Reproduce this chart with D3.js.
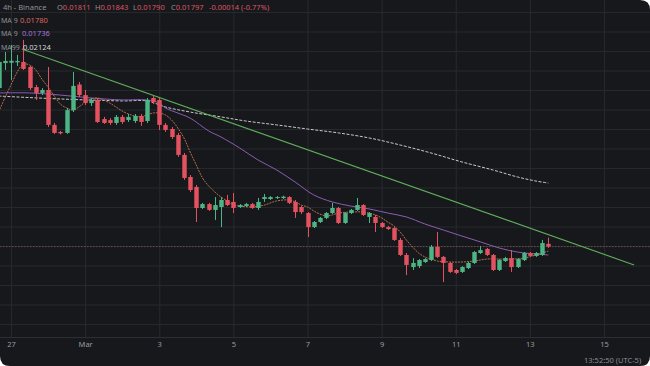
<!DOCTYPE html>
<html><head><meta charset="utf-8">
<script src="https://cdn.jsdelivr.net/npm/d3@7"></script>
<style>html,body{margin:0;padding:0;background:#fff;overflow:hidden}svg{display:block}</style>
</head><body><svg id="c" width="650" height="366"></svg>
<script>
// ---- data (4h candles, first candle opens 2025-02-26 16:00 UTC) ----
const firstCandle = Date.UTC(2025, 1, 26, 16);
const opens = [0.02610,0.02738,0.02740,0.02742,0.02744,0.02718,0.02615,0.02585,0.02600,0.02421,0.02385,0.02380,0.02497,0.02628,0.02574,0.02533,0.02549,0.02451,0.02446,0.02431,0.02462,0.02446,0.02441,0.02467,0.02441,0.02559,0.02549,0.02421,0.02400,0.02369,0.02267,0.02154,0.02103,0.01995,0.02015,0.01985,0.02000,0.02036,0.02026,0.02000,0.02005,0.02015,0.01995,0.02041,0.02041,0.02046,0.02046,0.02051,0.02026,0.02000,0.01969,0.01897,0.01923,0.01944,0.01969,0.01995,0.01918,0.01969,0.01985,0.02010,0.01949,0.01949,0.01918,0.01897,0.01892,0.01831,0.01754,0.01692,0.01697,0.01718,0.01728,0.01795,0.01744,0.01713,0.01677,0.01667,0.01687,0.01713,0.01764,0.01785,0.01754,0.01677,0.01723,0.01738,0.01692,0.01728,0.01764,0.01749,0.01754,0.01811];
const highs = [0.02795,0.02795,0.02831,0.02780,0.02857,0.02723,0.02626,0.02610,0.02718,0.02431,0.02390,0.02508,0.02692,0.02641,0.02600,0.02559,0.02559,0.02462,0.02456,0.02472,0.02472,0.02477,0.02477,0.02477,0.02559,0.02569,0.02559,0.02431,0.02410,0.02380,0.02277,0.02164,0.02113,0.02021,0.02021,0.02051,0.02051,0.02062,0.02072,0.02015,0.02021,0.02021,0.02046,0.02067,0.02056,0.02056,0.02058,0.02056,0.02036,0.02005,0.01974,0.01928,0.01949,0.01974,0.02021,0.02000,0.01974,0.01990,0.02046,0.02015,0.01974,0.01959,0.01923,0.01903,0.01897,0.01841,0.01764,0.01738,0.01733,0.01738,0.01805,0.01872,0.01749,0.01718,0.01682,0.01697,0.01718,0.01774,0.01800,0.01790,0.01759,0.01733,0.01744,0.01779,0.01738,0.01769,0.01769,0.01769,0.01831,0.01843];
const lows = [0.02590,0.02703,0.02651,0.02723,0.02703,0.02600,0.02549,0.02574,0.02410,0.02375,0.02372,0.02375,0.02487,0.02564,0.02523,0.02518,0.02431,0.02426,0.02421,0.02421,0.02426,0.02436,0.02431,0.02416,0.02431,0.02528,0.02395,0.02385,0.02349,0.02257,0.02139,0.02077,0.01923,0.01990,0.01980,0.01933,0.01897,0.02005,0.01969,0.01995,0.02000,0.01990,0.01985,0.02026,0.02036,0.02041,0.02041,0.02015,0.01944,0.01964,0.01846,0.01892,0.01918,0.01938,0.01964,0.01913,0.01913,0.01964,0.01980,0.01954,0.01918,0.01872,0.01892,0.01882,0.01826,0.01749,0.01651,0.01677,0.01687,0.01713,0.01723,0.01738,0.01615,0.01662,0.01656,0.01662,0.01682,0.01708,0.01759,0.01749,0.01672,0.01672,0.01718,0.01667,0.01687,0.01723,0.01744,0.01744,0.01749,0.01790];
const closes = [0.02744,0.02749,0.02750,0.02749,0.02708,0.02610,0.02585,0.02600,0.02421,0.02380,0.02378,0.02497,0.02621,0.02574,0.02533,0.02549,0.02436,0.02431,0.02431,0.02462,0.02436,0.02462,0.02467,0.02436,0.02549,0.02538,0.02421,0.02395,0.02359,0.02267,0.02149,0.02087,0.01995,0.02015,0.01985,0.02010,0.02036,0.02010,0.01995,0.02010,0.02015,0.01995,0.02026,0.02051,0.02051,0.02051,0.02053,0.02021,0.01974,0.01974,0.01897,0.01923,0.01944,0.01969,0.01995,0.01918,0.01969,0.01985,0.02010,0.01959,0.01969,0.01918,0.01897,0.01887,0.01831,0.01754,0.01703,0.01713,0.01728,0.01733,0.01795,0.01744,0.01713,0.01667,0.01662,0.01692,0.01713,0.01769,0.01779,0.01754,0.01677,0.01728,0.01738,0.01692,0.01733,0.01764,0.01749,0.01764,0.01815,0.01797];

// moving averages, sampled at candle numbers (0 = first candle)
const ma7Idx = [0,1,2,3,4,5,6,7,8,10,11,12,13,14,15,16,17,18,19,20,21,22,23,24,25,26,27,28,29,30,31,32,33,34,35,36,37,38,39,41,43,45,47,48,49,50,51,52,53,54,55,57,59,61,62,63,64,65,66,67,68,69,70,71,73,75,77,79,81,83,85,87,89];
const ma7Val = [0.02487,0.02559,0.02626,0.02692,0.02733,0.02728,0.02703,0.02656,0.02615,0.02528,0.02508,0.02497,0.02513,0.02538,0.02554,0.02559,0.02549,0.02533,0.02513,0.02492,0.02477,0.02467,0.02462,0.02472,0.02482,0.02482,0.02472,0.02446,0.02405,0.02354,0.02282,0.02215,0.02149,0.02108,0.02077,0.02051,0.02031,0.02010,0.02005,0.02000,0.02010,0.02031,0.02036,0.02026,0.02010,0.02000,0.01980,0.01964,0.01954,0.01959,0.01969,0.01974,0.01974,0.01959,0.01944,0.01923,0.01903,0.01872,0.01831,0.01795,0.01764,0.01744,0.01733,0.01723,0.01718,0.01718,0.01723,0.01733,0.01733,0.01733,0.01738,0.01754,0.01774];
const ma25Idx = [0,5,10,15,20,24,26,27,29,31,34,36,39,42,45,48,51,54,57,60,63,66,69,72,75,78,81,84,87,89];
const ma25Val = [0.02585,0.02585,0.02574,0.02559,0.02549,0.02549,0.02533,0.02508,0.02482,0.02456,0.02390,0.02359,0.02303,0.02241,0.02190,0.02128,0.02062,0.02026,0.02005,0.01990,0.01969,0.01949,0.01913,0.01882,0.01851,0.01821,0.01790,0.01769,0.01759,0.01754];
const ma99Idx = [0,10,20,24,27,31,36,40,45,50,55,60,65,70,75,80,84,87,89];
const ma99Val = [0.02569,0.02554,0.02544,0.02544,0.02513,0.02487,0.02462,0.02441,0.02421,0.02400,0.02380,0.02354,0.02318,0.02277,0.02231,0.02190,0.02154,0.02133,0.02123];

// legend values
const legendHeader = "4h - Binance";
const maLabels = ["MA 9", "MA 9", "MA99"];
const maLegendValues = [0.01780, 0.01736, 0.02124];

// trend line
const trendTimes = [Date.UTC(2025,1,27,7), Date.UTC(2025,2,15,19,30)];
const trendPrices = [0.02810, 0.01703];

// x axis
const tickDates = [Date.UTC(2025,1,27),Date.UTC(2025,2,1),Date.UTC(2025,2,3),Date.UTC(2025,2,5),Date.UTC(2025,2,7),Date.UTC(2025,2,9),Date.UTC(2025,2,11),Date.UTC(2025,2,13),Date.UTC(2025,2,15)];
const tickLabels = ["27","Mar","3","5","7","9","11","13","15"];
const priceGrid = d3.range(14, 31).map(v => v / 1000);

// ---- drawing ----
const W = 650, H = 366, plotBottom = 337;
const BG = "#17181c", GRID = "#26282d";
const UP = "#4db585", DOWN = "#e2525f";
const H4 = 4 * 3600 * 1000;

const svg = d3.select("#c");
const defs = svg.append("defs");
defs.append("clipPath").attr("id","frame").append("path")
  .attr("d", `M0,0 H${W-10} Q${W},0 ${W},10 V${H-10} Q${W},${H} ${W-10},${H} H10 Q0,${H} 0,${H-10} Z`);
defs.append("clipPath").attr("id","plot").append("rect").attr("x",0).attr("y",0).attr("width",W).attr("height",plotBottom);

const root = svg.append("g").attr("clip-path","url(#frame)");
root.append("rect").attr("width",W).attr("height",H).attr("fill",BG);

const x = d3.scaleUtc().domain([Date.UTC(2025,1,27), Date.UTC(2025,2,15)]).range([11, 604]);
const y = d3.scaleLinear().domain([0.018, 0.028]).range([246, 51]);

// grid
const gy = root.append("g").call(d3.axisLeft(y).tickValues(priceGrid).tickSize(-W).tickFormat(""));
gy.select(".domain").remove();
gy.selectAll("line").attr("stroke", GRID).attr("stroke-width", 1);

const gx = root.append("g").attr("transform",`translate(0,${plotBottom})`)
  .call(d3.axisBottom(x).tickValues(tickDates).tickSize(-plotBottom).tickFormat(""));
gx.select(".domain").remove();
gx.selectAll("line").attr("stroke", GRID).attr("stroke-width", 1);

// axis line + labels
root.append("line").attr("x1",0).attr("x2",W).attr("y1",plotBottom+0.5).attr("y2",plotBottom+0.5).attr("stroke","#2c2e33");
const ax = root.append("g").attr("transform",`translate(0,${plotBottom})`)
  .call(d3.axisBottom(x).tickValues(tickDates).tickSize(0).tickPadding(5).tickFormat((d,i)=>tickLabels[i]));
ax.select(".domain").remove();
ax.selectAll("text").attr("fill","#9a9ba0").attr("font-family","'Noto Sans', sans-serif").attr("font-size","7.5px");

const plot = root.append("g").attr("clip-path","url(#plot)");

// current price line
const lastClose = closes[closes.length-1];
plot.append("line").attr("x1",0).attr("x2",W).attr("y1",y(lastClose)).attr("y2",y(lastClose))
  .attr("stroke","#6b4a50").attr("stroke-dasharray","1.5,1.5").attr("stroke-width",1);

// moving averages
const tOf = n => firstCandle + n * H4;
const line = d3.line().x(d => x(tOf(d[0]))).y(d => y(d[1])).curve(d3.curveCatmullRom.alpha(0.5));
plot.append("path").datum(d3.zip(ma99Idx, ma99Val)).attr("d", line)
  .attr("fill","none").attr("stroke","#c9c9cc").attr("stroke-width",1).attr("stroke-dasharray","3,1.5");
plot.append("path").datum(d3.zip(ma25Idx, ma25Val)).attr("d", line)
  .attr("fill","none").attr("stroke","#8b5cb3").attr("stroke-width",1);
plot.append("path").datum(d3.zip(ma7Idx, ma7Val)).attr("d", line)
  .attr("fill","none").attr("stroke","#b8704f").attr("stroke-width",1).attr("stroke-dasharray","2,1");

// trend line
plot.append("line")
  .attr("x1", x(trendTimes[0])).attr("y1", y(trendPrices[0]))
  .attr("x2", x(trendTimes[1])).attr("y2", y(trendPrices[1]))
  .attr("stroke","#5fae5a").attr("stroke-width",1.1);

// candles
const candles = opens.map((o,i)=>({t: tOf(i), o, h: highs[i], l: lows[i], c: closes[i]}));
const bw = (x(tOf(1)) - x(tOf(0))) * 0.72;
const cg = plot.append("g").selectAll("g").data(candles).join("g");
cg.append("line")
  .attr("x1", d => Math.round(x(d.t)) + 0.5).attr("x2", d => Math.round(x(d.t)) + 0.5)
  .attr("y1", d => y(d.h)).attr("y2", d => y(d.l))
  .attr("stroke", d => d.c >= d.o ? UP : DOWN).attr("stroke-width",1);
cg.append("rect")
  .attr("x", d => Math.round(x(d.t)) + 0.5 - bw/2)
  .attr("y", d => y(Math.max(d.o, d.c)))
  .attr("width", bw)
  .attr("height", d => Math.max(1, Math.abs(y(d.o) - y(d.c))))
  .attr("fill", d => d.c >= d.o ? UP : DOWN);

// legend
const font = "'Noto Sans', sans-serif";
const LBL = "#8f9096", VAL = "#dc5662";
const leg = root.append("g").attr("font-family", font).attr("font-size","7.5px");
leg.append("text").attr("x",3).attr("y",10).attr("fill",LBL).text(legendHeader);
const ohlc = [["O", opens.at(-1), 57],["H", highs.at(-1), 95],["L", lows.at(-1), 133],["C", closes.at(-1), 171]];
ohlc.forEach(([k,v,px]) => {
  const t = leg.append("text").attr("x",px).attr("y",10);
  t.append("tspan").attr("fill",LBL).text(k);
  t.append("tspan").attr("fill",VAL).text(v.toFixed(5));
});
const chg = closes.at(-1) - opens.at(-1);
leg.append("text").attr("x",209).attr("y",10).attr("fill",VAL)
  .text(`${chg.toFixed(5)} (${(chg/opens.at(-1)*100).toFixed(2)}%)`);

const maColors = ["#d9685e", "#a673d6", "#d4d4d8"];
const maRows = [23, 36, 50], maValX = [20, 22, 23];
maLabels.forEach((k, i) => {
  leg.append("text").attr("x",1).attr("y",maRows[i]).attr("fill",LBL).attr("font-size","7px").text(k);
  leg.append("text").attr("x",maValX[i]).attr("y",maRows[i]).attr("fill",maColors[i]).text(maLegendValues[i].toFixed(5));
});

root.append("text").attr("x",584).attr("y",363).attr("fill","#8a8b90")
  .attr("font-family",font).attr("font-size","7.5px").text("13:52:50 (UTC-5)");
</script>
</body></html>
